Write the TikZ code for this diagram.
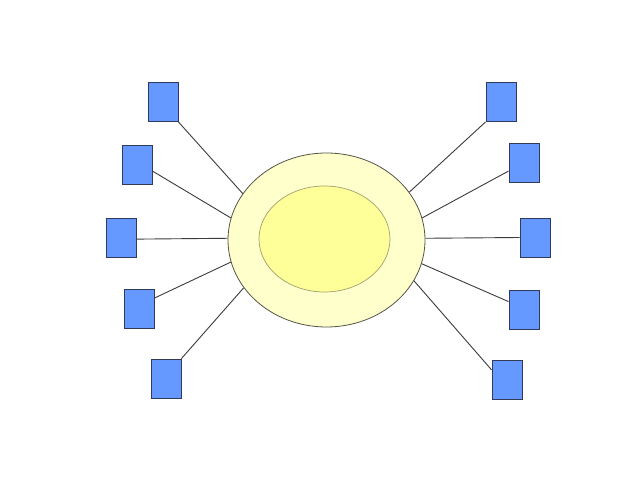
\documentclass[tikz,border=0pt]{standalone}
\usetikzlibrary{shapes.geometric}
\definecolor{boxfill}{RGB}{102,153,255}
\definecolor{boxline}{RGB}{50,58,90}
\definecolor{outerfill}{RGB}{255,255,204}
\definecolor{outerline}{RGB}{85,85,70}
\definecolor{innerfill}{RGB}{255,255,153}
\definecolor{innerline}{RGB}{160,160,110}
\definecolor{linkcol}{RGB}{60,60,60}
\begin{document}
\begin{tikzpicture}[x=1pt,y=-1pt,
  bluebox/.style={draw=boxline,fill=boxfill,line width=0.9pt,minimum width=30pt,minimum height=39pt,inner sep=0pt},
  link/.style={draw=linkcol,line width=0.9pt}]
\useasboundingbox (0,0) rectangle (638,478);
\fill[white] (0,0) rectangle (638,478);
\node[ellipse,draw=outerline,fill=outerfill,line width=0.8pt,minimum width=197pt,minimum height=174pt,inner sep=0pt] (outer) at (326.5,240) {};
\node[ellipse,draw=innerline,fill=innerfill,line width=0.7pt,minimum width=131pt,minimum height=106pt,inner sep=0pt] (inner) at (324.5,239) {};
\node[bluebox] (b1) at (163,102) {};
\node[bluebox] (b2) at (137,164.5) {};
\node[bluebox] (b3) at (121,237.5) {};
\node[bluebox] (b4) at (139,308.5) {};
\node[bluebox] (b5) at (166,378.5) {};
\node[bluebox] (r1) at (501,102) {};
\node[bluebox] (r2) at (524,162.5) {};
\node[bluebox] (r3) at (535,237.5) {};
\node[bluebox] (r4) at (524,309.5) {};
\node[bluebox] (r5) at (507,379.5) {};
\draw[link] (b1.south east) -- (outer.151.7);
\draw[link] (b2.-23) -- (outer.167.5);
\draw[link] (b3.-6) -- (outer.179.4);
\draw[link] (b4.34) -- (outer.193.2);
\draw[link] (b5.north east) -- (outer.210.7);
\draw[link] (r1.south west) -- (outer.30.2);
\draw[link] (r2.209) -- (outer.13.4);
\draw[link] (r3.180) -- (outer.1.5);
\draw[link] (r4.153) -- (outer.-14.1);
\draw[link] (r5.148) -- (outer.-25.9);
\end{tikzpicture}
\end{document}
